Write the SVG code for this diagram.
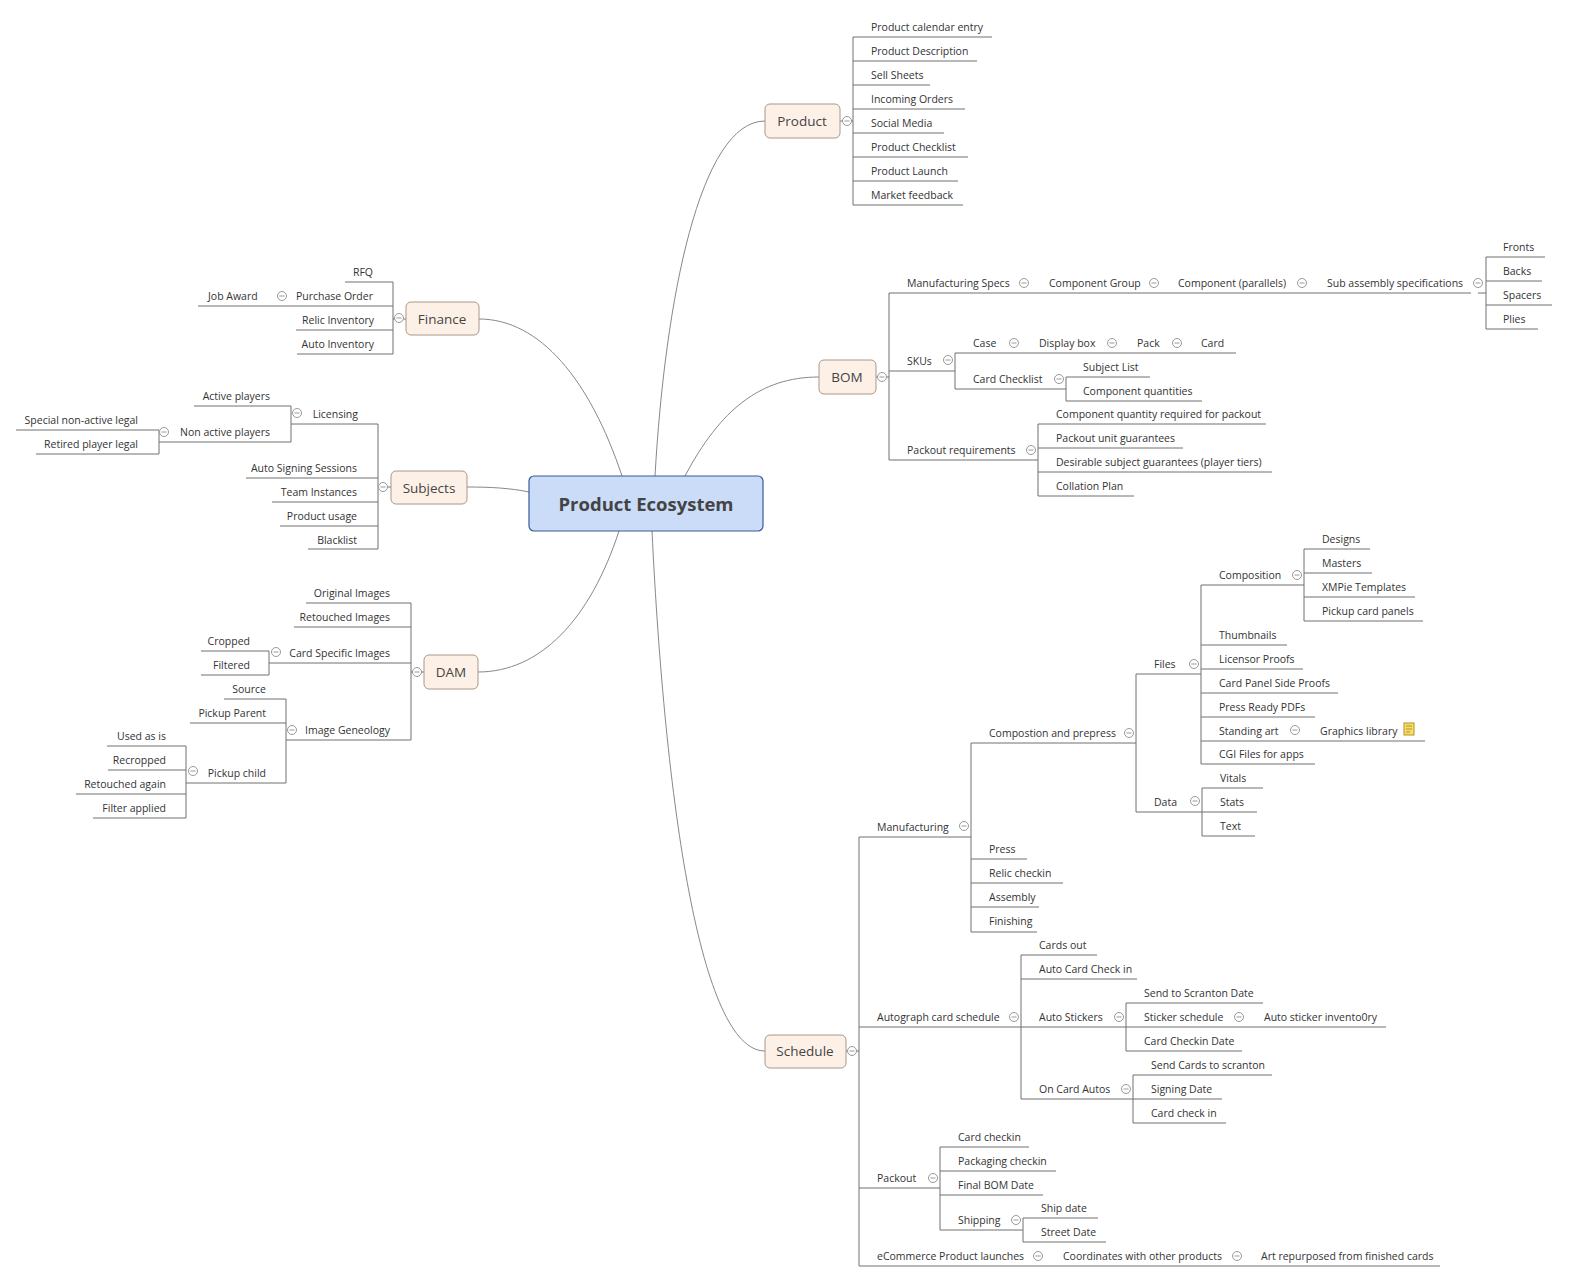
<svg xmlns="http://www.w3.org/2000/svg" width="1574" height="1287" viewBox="0 0 1574 1287">
<style>
text{font-family:"Open Sans","Noto Sans",sans-serif;font-size:10.5px;fill:#333}
.e{text-anchor:end}
.l{stroke:#707070;stroke-width:1;fill:none}
.c{stroke:#888;stroke-width:1;fill:none}
.n rect{fill:#fdf1e7;stroke:#a89888;stroke-width:1}
.n text{font-size:13.5px;text-anchor:middle;fill:#444}
.i circle{fill:#fff;stroke:#999}
.i path{stroke:#999}
</style>
<defs>
<g id="m"><circle r="4.5" fill="#fff" stroke="#999"/><path d="M-2.5,0H2.5" stroke="#999"/></g>
</defs>
<rect width="1574" height="1287" fill="#fff"/>
<g id="connectors">
<path class="c" d="M655,476 C665,300 700,121 765,121"/>
<path class="c" d="M685,476 C720,410 760,377 819,377"/>
<path class="c" d="M652,531 C665,800 700,1051 765,1051"/>
<path class="c" d="M622,476 C590,380 540,319 479,319"/>
<path class="c" d="M529,492 C510,488 490,487 467,487"/>
<path class="c" d="M619,531 C590,620 540,672 478,672"/>
<!-- Product -->
<path class="l" d="M840,121H853M853,37V205M853,37H992M853,61H977M853,85H930M853,109H965M853,133H944M853,157H968M853,181H958M853,205H963"/>
<!-- BOM -->
<path class="l" d="M876,377H889M889,293V460M889,293H1471M1486,257V329M1478,293H1486M1486,257H1545M1486,281H1542M1486,305H1552M1486,329H1538"/>
<path class="l" d="M889,371H941M955,353V389M941,371H955M955,353H1236M955,389H1052M1066,377V401M1052,389H1066M1066,377H1150M1066,401H1202"/>
<path class="l" d="M889,460H1024M1038,424V496M1024,460H1038M1038,424H1266M1038,448H1183M1038,472H1272M1038,496H1134"/>
<!-- Schedule -->
<path class="l" d="M846,1051H859M859,837V1266M859,837H957M971,743V932M957,837H971M971,743H1122M971,859H1027M971,883H1063M971,907H1039M971,932H1037"/>
<path class="l" d="M1136,674V812M1122,743H1136M1136,674H1187M1201,585V764M1187,674H1201M1201,585H1290M1304,549V621M1290,585H1304M1304,549H1370M1304,573H1372M1304,597H1415M1304,621H1423"/>
<path class="l" d="M1201,645H1287M1201,669H1303M1201,693H1338M1201,717H1315M1201,741H1425M1201,764H1315"/>
<path class="l" d="M1136,812H1188M1202,788V836M1188,812H1202M1202,788H1263M1202,812H1257M1202,836H1255"/>
<path class="l" d="M859,1027H1007M1021,955V1099M1007,1027H1021M1021,955H1097M1021,979H1137M1021,1027H1112M1126,1003V1051M1112,1027H1126M1126,1003H1263M1126,1027H1386M1126,1051H1242M1021,1099H1119M1133,1075V1123M1119,1099H1133M1133,1075H1272M1133,1099H1222M1133,1123H1226"/>
<path class="l" d="M859,1188H926M940,1147V1230M926,1188H940M940,1147H1029M940,1171H1056M940,1195H1043M940,1230H1009M1023,1218V1242M1009,1230H1023M1023,1218H1098M1023,1242H1106M859,1266H1440"/>
<!-- Finance -->
<path class="l" d="M406,319H393M393,282V354M393,282H345M393,306H198M393,330H296M393,354H297"/>
<!-- Subjects -->
<path class="l" d="M391,487H378M378,424V549M378,424H305M291,406V442M305,424H291M291,406H194M291,442H173M159,430V454M173,442H159M159,430H16M159,454H36M378,478H246M378,502H272M378,526H280M378,549H308"/>
<!-- DAM -->
<path class="l" d="M424,672H411M411,603V740M411,603H306M411,627H294M411,663H283M269,651V675M283,663H269M269,651H201M269,675H201M411,740H300M286,699V783M300,740H286M286,699H224M286,723H190M286,783H200M186,746V818M200,783H186M186,746H107M186,770H108M186,794H76M186,818H93"/>
</g>
<g id="center"><rect x="529" y="476" width="234" height="55" rx="5" fill="#cadcf8" stroke="#3a5a92" stroke-width="1.2"/><text x="646" y="511" style="font-size:18.5px;font-weight:bold;text-anchor:middle;fill:#444">Product Ecosystem</text></g>
<g id="n-product" class="n"><rect x="765" y="104" width="75" height="34" rx="5"/><text x="802" y="126">Product</text></g>
<g id="n-bom" class="n"><rect x="819" y="360" width="57" height="34" rx="5"/><text x="847" y="382">BOM</text></g>
<g id="n-schedule" class="n"><rect x="765" y="1035" width="81" height="33" rx="5"/><text x="805" y="1056">Schedule</text></g>
<g id="n-finance" class="n"><rect x="406" y="302" width="73" height="33" rx="5"/><text x="442" y="324">Finance</text></g>
<g id="n-subjects" class="n"><rect x="391" y="471" width="76" height="33" rx="5"/><text x="429" y="493">Subjects</text></g>
<g id="n-dam" class="n"><rect x="424" y="655" width="54" height="34" rx="5"/><text x="451" y="677">DAM</text></g>
<g id="icons">
<use href="#m" x="847" y="121"/><use href="#m" x="882" y="377"/><use href="#m" x="852" y="1051"/><use href="#m" x="399" y="318"/><use href="#m" x="383" y="487"/><use href="#m" x="417" y="672"/>
<use href="#m" x="1024" y="283"/><use href="#m" x="1154" y="283"/><use href="#m" x="1302" y="283"/><use href="#m" x="1478" y="283"/>
<use href="#m" x="948" y="360"/><use href="#m" x="1014" y="343"/><use href="#m" x="1112" y="343"/><use href="#m" x="1177" y="343"/><use href="#m" x="1059" y="379"/><use href="#m" x="1031" y="450"/>
<use href="#m" x="964" y="826"/><use href="#m" x="1129" y="733"/><use href="#m" x="1194" y="664"/><use href="#m" x="1297" y="575"/><use href="#m" x="1295" y="730"/><use href="#m" x="1195" y="801"/>
<use href="#m" x="1014" y="1017"/><use href="#m" x="1119" y="1017"/><use href="#m" x="1239" y="1017"/><use href="#m" x="1126" y="1089"/><use href="#m" x="933" y="1178"/><use href="#m" x="1016" y="1220"/><use href="#m" x="1038" y="1256"/><use href="#m" x="1237" y="1256"/>
<use href="#m" x="282" y="296"/><use href="#m" x="297" y="413"/><use href="#m" x="164" y="432"/><use href="#m" x="276" y="652"/><use href="#m" x="292" y="730"/><use href="#m" x="193" y="771"/>
<g transform="translate(1404,723)"><rect width="10" height="12" fill="#f7dc6f" stroke="#b8941a"/><path d="M2,3H8M2,6H8M2,9H6" stroke="#b8941a"/></g>
</g>
<g id="t-product">
<text x="871" y="31">Product calendar entry</text><text x="871" y="55">Product Description</text><text x="871" y="79">Sell Sheets</text><text x="871" y="103">Incoming Orders</text><text x="871" y="127">Social Media</text><text x="871" y="151">Product Checklist</text><text x="871" y="175">Product Launch</text><text x="871" y="199">Market feedback</text>
</g>
<g id="t-bom">
<text x="907" y="287">Manufacturing Specs</text><text x="1049" y="287">Component Group</text><text x="1178" y="287">Component (parallels)</text><text x="1327" y="287">Sub assembly specifications</text>
<text x="1503" y="251">Fronts</text><text x="1503" y="275">Backs</text><text x="1503" y="299">Spacers</text><text x="1503" y="323">Plies</text>
<text x="907" y="365">SKUs</text><text x="973" y="347">Case</text><text x="1039" y="347">Display box</text><text x="1137" y="347">Pack</text><text x="1201" y="347">Card</text>
<text x="973" y="383">Card Checklist</text><text x="1083" y="371">Subject List</text><text x="1083" y="395">Component quantities</text>
<text x="907" y="454">Packout requirements</text><text x="1056" y="418">Component quantity required for packout</text><text x="1056" y="442">Packout unit guarantees</text><text x="1056" y="466">Desirable subject guarantees (player tiers)</text><text x="1056" y="490">Collation Plan</text>
</g>
<g id="t-schedule">
<text x="877" y="831">Manufacturing</text><text x="989" y="737">Compostion and prepress</text><text x="1154" y="668">Files</text>
<text x="1219" y="579">Composition</text><text x="1322" y="543">Designs</text><text x="1322" y="567">Masters</text><text x="1322" y="591">XMPie Templates</text><text x="1322" y="615">Pickup card panels</text>
<text x="1219" y="639">Thumbnails</text><text x="1219" y="663">Licensor Proofs</text><text x="1219" y="687">Card Panel Side Proofs</text><text x="1219" y="711">Press Ready PDFs</text><text x="1219" y="735">Standing art</text><text x="1320" y="735">Graphics library</text><text x="1219" y="758">CGI Files for apps</text>
<text x="1154" y="806">Data</text><text x="1220" y="782">Vitals</text><text x="1220" y="806">Stats</text><text x="1220" y="830">Text</text>
<text x="989" y="853">Press</text><text x="989" y="877">Relic checkin</text><text x="989" y="901">Assembly</text><text x="989" y="925">Finishing</text>
<text x="877" y="1021">Autograph card schedule</text><text x="1039" y="949">Cards out</text><text x="1039" y="973">Auto Card Check in</text><text x="1039" y="1021">Auto Stickers</text>
<text x="1144" y="997">Send to Scranton Date</text><text x="1144" y="1021">Sticker schedule</text><text x="1264" y="1021">Auto sticker invento0ry</text><text x="1144" y="1045">Card Checkin Date</text>
<text x="1039" y="1093">On Card Autos</text><text x="1151" y="1069">Send Cards to scranton</text><text x="1151" y="1093">Signing Date</text><text x="1151" y="1117">Card check in</text>
<text x="877" y="1182">Packout</text><text x="958" y="1141">Card checkin</text><text x="958" y="1165">Packaging checkin</text><text x="958" y="1189">Final BOM Date</text><text x="958" y="1224">Shipping</text><text x="1041" y="1212">Ship date</text><text x="1041" y="1236">Street Date</text>
<text x="877" y="1260">eCommerce Product launches</text><text x="1063" y="1260">Coordinates with other products</text><text x="1261" y="1260">Art repurposed from finished cards</text>
</g>
<g id="t-left">
<text class="e" x="373" y="276">RFQ</text><text class="e" x="373" y="300">Purchase Order</text><text x="208" y="300">Job Award</text><text class="e" x="374" y="324">Relic Inventory</text><text class="e" x="374" y="348">Auto Inventory</text>
<text class="e" x="358" y="418">Licensing</text><text class="e" x="270" y="400">Active players</text><text class="e" x="270" y="436">Non active players</text><text class="e" x="138" y="424">Special non-active legal</text><text class="e" x="138" y="448">Retired player legal</text>
<text class="e" x="357" y="472">Auto Signing Sessions</text><text class="e" x="357" y="496">Team Instances</text><text class="e" x="357" y="520">Product usage</text><text class="e" x="357" y="544">Blacklist</text>
<text class="e" x="390" y="597">Original Images</text><text class="e" x="390" y="621">Retouched Images</text><text class="e" x="390" y="657">Card Specific Images</text><text class="e" x="250" y="645">Cropped</text><text class="e" x="250" y="669">Filtered</text>
<text class="e" x="390" y="734">Image Geneology</text><text class="e" x="266" y="693">Source</text><text class="e" x="266" y="717">Pickup Parent</text><text class="e" x="266" y="777">Pickup child</text>
<text class="e" x="166" y="740">Used as is</text><text class="e" x="166" y="764">Recropped</text><text class="e" x="166" y="788">Retouched again</text><text class="e" x="166" y="812">Filter applied</text>
</g>
</svg>
